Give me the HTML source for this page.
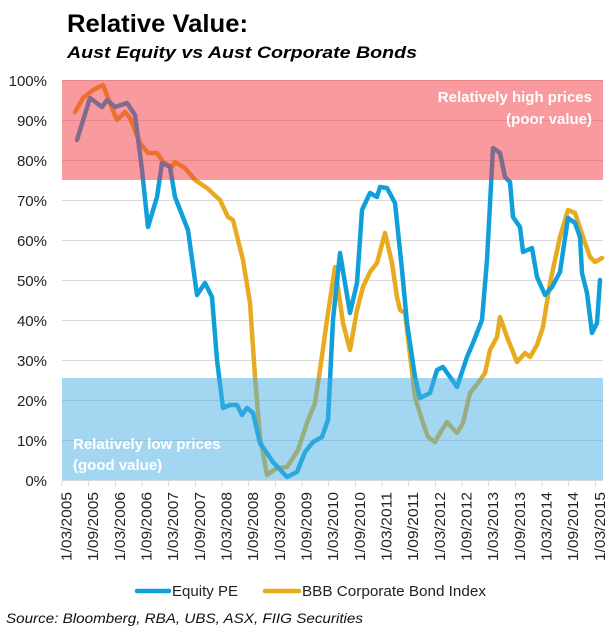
<!DOCTYPE html>
<html><head><meta charset="utf-8"><style>
html,body{margin:0;padding:0;background:#fff;}
svg{display:block;}
</style></head><body>
<svg width="616" height="640" viewBox="0 0 616 640" xmlns="http://www.w3.org/2000/svg" font-family="Liberation Sans, DejaVu Sans, sans-serif">
<text x="67" y="32" font-size="25" font-weight="bold" fill="#000" textLength="181" lengthAdjust="spacingAndGlyphs">Relative Value:</text>
<text x="67" y="58" font-size="17" font-weight="bold" font-style="italic" fill="#000" textLength="350" lengthAdjust="spacingAndGlyphs">Aust Equity vs Aust Corporate Bonds</text>
<g stroke="#d9d9d9" stroke-width="1">
<line x1="62" y1="80.5" x2="603" y2="80.5"/><line x1="62" y1="120.5" x2="603" y2="120.5"/><line x1="62" y1="160.5" x2="603" y2="160.5"/><line x1="62" y1="200.5" x2="603" y2="200.5"/><line x1="62" y1="240.5" x2="603" y2="240.5"/><line x1="62" y1="280.5" x2="603" y2="280.5"/><line x1="62" y1="320.5" x2="603" y2="320.5"/><line x1="62" y1="360.5" x2="603" y2="360.5"/><line x1="62" y1="400.5" x2="603" y2="400.5"/><line x1="62" y1="440.5" x2="603" y2="440.5"/>
</g>
<g font-size="15" fill="#222" text-anchor="end">
<text x="47" y="86">100%</text><text x="47" y="126">90%</text><text x="47" y="166">80%</text><text x="47" y="206">70%</text><text x="47" y="246">60%</text><text x="47" y="286">50%</text><text x="47" y="326">40%</text><text x="47" y="366">30%</text><text x="47" y="406">20%</text><text x="47" y="446">10%</text><text x="47" y="486">0%</text>
</g>
<g fill="none" stroke-width="4.5" stroke-linejoin="round" stroke-linecap="round">
<polyline stroke="#e8aa1e" points="75,112 83,98 93,90 103,85 110,103 117,120 125,112 130,118 140,143 148,153 157,153 163,162 172,167 175,162 185,168 195,180 207,188 220,200 228,217 233,220 243,260 250,303 255,377 260,437 267,475 277,468 287,467 298,450 307,423 315,403 320,370 327,320 335,267 343,323 350,350 357,310 363,287 370,272 377,263 385,233 392,263 397,297 400,310 405,313 415,397 422,420 428,437 435,442 440,433 447,422 457,433 463,423 470,393 478,383 485,373 490,350 497,337 500,317 507,337 517,362 525,353 530,357 537,345 543,327 550,283 560,237 568,210 575,213 583,237 590,257 595,262 602,258"/>
<polyline stroke="#119fda" points="77,140 90,98 102,107 107,100 115,107 127,103 135,115 142,170 148,227 157,197 162,163 170,167 175,197 188,230 197,295 205,283 212,297 217,360 223,408 230,405 237,405 242,415 247,408 253,413 260,443 273,462 287,477 297,472 305,452 313,442 322,437 328,420 333,320 340,253 350,313 357,283 362,210 370,193 377,197 380,187 387,188 395,203 402,270 407,323 415,377 420,398 430,393 437,370 443,367 457,387 467,357 473,343 482,320 487,260 493,148 500,153 505,177 510,182 513,217 520,227 523,252 532,248 537,277 545,295 552,287 560,272 568,218 575,223 580,237 582,273 587,293 592,333 597,323 600,280"/>
</g>
<rect x="62" y="80" width="541" height="100" fill="rgb(243,53,64)" fill-opacity="0.5"/>
<rect x="62" y="378" width="541" height="102" fill="rgb(72,176,228)" fill-opacity="0.5"/>
<g font-size="15" font-weight="bold" fill="#fff">
<text x="592" y="102" text-anchor="end">Relatively  high prices</text>
<text x="592" y="124" text-anchor="end">(poor value)</text>
<text x="73" y="449">Relatively  low prices</text>
<text x="73" y="470">(good value)</text>
</g>
<line x1="62" y1="480.5" x2="603" y2="480.5" stroke="#d9d9d9"/>
<g stroke="#d9d9d9">
<line x1="62" y1="480" x2="62" y2="486"/><line x1="88.7" y1="480" x2="88.7" y2="486"/><line x1="115.3" y1="480" x2="115.3" y2="486"/><line x1="142" y1="480" x2="142" y2="486"/><line x1="168.7" y1="480" x2="168.7" y2="486"/><line x1="195.3" y1="480" x2="195.3" y2="486"/><line x1="222" y1="480" x2="222" y2="486"/><line x1="248.7" y1="480" x2="248.7" y2="486"/><line x1="275.3" y1="480" x2="275.3" y2="486"/><line x1="302" y1="480" x2="302" y2="486"/><line x1="328.7" y1="480" x2="328.7" y2="486"/><line x1="355.3" y1="480" x2="355.3" y2="486"/><line x1="382" y1="480" x2="382" y2="486"/><line x1="408.7" y1="480" x2="408.7" y2="486"/><line x1="435.3" y1="480" x2="435.3" y2="486"/><line x1="462" y1="480" x2="462" y2="486"/><line x1="488.7" y1="480" x2="488.7" y2="486"/><line x1="515.3" y1="480" x2="515.3" y2="486"/><line x1="542" y1="480" x2="542" y2="486"/><line x1="568.7" y1="480" x2="568.7" y2="486"/><line x1="595.3" y1="480" x2="595.3" y2="486"/>
</g>
<g font-size="15" fill="#222" text-anchor="end">
<text transform="translate(71.5,492) rotate(-90)" textLength="69" lengthAdjust="spacingAndGlyphs">1/03/2005</text>
<text transform="translate(98.2,492) rotate(-90)" textLength="69" lengthAdjust="spacingAndGlyphs">1/09/2005</text>
<text transform="translate(124.8,492) rotate(-90)" textLength="69" lengthAdjust="spacingAndGlyphs">1/03/2006</text>
<text transform="translate(151.5,492) rotate(-90)" textLength="69" lengthAdjust="spacingAndGlyphs">1/09/2006</text>
<text transform="translate(178.2,492) rotate(-90)" textLength="69" lengthAdjust="spacingAndGlyphs">1/03/2007</text>
<text transform="translate(204.8,492) rotate(-90)" textLength="69" lengthAdjust="spacingAndGlyphs">1/09/2007</text>
<text transform="translate(231.5,492) rotate(-90)" textLength="69" lengthAdjust="spacingAndGlyphs">1/03/2008</text>
<text transform="translate(258.2,492) rotate(-90)" textLength="69" lengthAdjust="spacingAndGlyphs">1/09/2008</text>
<text transform="translate(284.8,492) rotate(-90)" textLength="69" lengthAdjust="spacingAndGlyphs">1/03/2009</text>
<text transform="translate(311.5,492) rotate(-90)" textLength="69" lengthAdjust="spacingAndGlyphs">1/09/2009</text>
<text transform="translate(338.2,492) rotate(-90)" textLength="69" lengthAdjust="spacingAndGlyphs">1/03/2010</text>
<text transform="translate(364.8,492) rotate(-90)" textLength="69" lengthAdjust="spacingAndGlyphs">1/09/2010</text>
<text transform="translate(391.5,492) rotate(-90)" textLength="69" lengthAdjust="spacingAndGlyphs">1/03/2011</text>
<text transform="translate(418.2,492) rotate(-90)" textLength="69" lengthAdjust="spacingAndGlyphs">1/09/2011</text>
<text transform="translate(444.8,492) rotate(-90)" textLength="69" lengthAdjust="spacingAndGlyphs">1/03/2012</text>
<text transform="translate(471.5,492) rotate(-90)" textLength="69" lengthAdjust="spacingAndGlyphs">1/09/2012</text>
<text transform="translate(498.2,492) rotate(-90)" textLength="69" lengthAdjust="spacingAndGlyphs">1/03/2013</text>
<text transform="translate(524.8,492) rotate(-90)" textLength="69" lengthAdjust="spacingAndGlyphs">1/09/2013</text>
<text transform="translate(551.5,492) rotate(-90)" textLength="69" lengthAdjust="spacingAndGlyphs">1/03/2014</text>
<text transform="translate(578.2,492) rotate(-90)" textLength="69" lengthAdjust="spacingAndGlyphs">1/09/2014</text>
<text transform="translate(604.8,492) rotate(-90)" textLength="69" lengthAdjust="spacingAndGlyphs">1/03/2015</text>
</g>
<line x1="137" y1="591" x2="169" y2="591" stroke="#119fda" stroke-width="4.5" stroke-linecap="round"/>
<text x="172" y="596" font-size="15" fill="#222" textLength="66" lengthAdjust="spacingAndGlyphs">Equity PE</text>
<line x1="265" y1="591" x2="299" y2="591" stroke="#e8aa1e" stroke-width="4.5" stroke-linecap="round"/>
<text x="302" y="596" font-size="15" fill="#222" textLength="184" lengthAdjust="spacingAndGlyphs">BBB Corporate Bond Index</text>
<text x="6" y="623" font-size="14" font-style="italic" fill="#111" textLength="357" lengthAdjust="spacingAndGlyphs">Source: Bloomberg, RBA, UBS, ASX, FIIG Securities</text>
</svg>
</body></html>
